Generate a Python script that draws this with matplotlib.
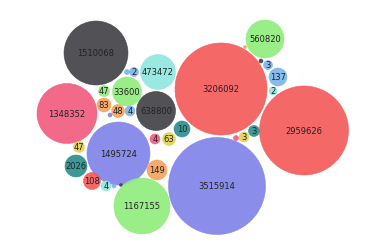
import matplotlib
matplotlib.use('Agg')
import matplotlib.pyplot as plt
from matplotlib.patches import Circle

# bubble values (label text), in drawing order
values = [1510068, 1348352, 473472, 33600, 47, 2, 1, 83, 48, 4, 1,
          638800, 10, 4, 63, 3206092, 2959626, 3515914, 1495724, 47,
          2026, 108, 4, 1, 1, 149, 1167155, 560820, 1, 1, 3, 137, 2,
          3, 3, 1]
# series colour of each bubble
colors = ['#434348', '#f15c80', '#91e8e1', '#90ed7d', '#90ed7d', '#7cb5ec', '#7cb5ec',
          '#f7a35c', '#f7a35c', '#7cb5ec', '#8085e9',
          '#434348', '#2b908f', '#f15c80', '#e4d354', '#f45b5b', '#f45b5b', '#8085e9',
          '#8085e9', '#e4d354', '#2b908f', '#f45b5b', '#91e8e1', '#7cb5ec', '#434348',
          '#f7a35c', '#90ed7d', '#90ed7d', '#f7a35c', '#434348', '#7cb5ec', '#7cb5ec',
          '#91e8e1', '#2b908f', '#e4d354', '#f15c80']

# packed layout (pixel space, y down) and bubble radii
cx = [96, 67, 158, 127, 104, 134, 127, 104, 118, 130, 110,
      156, 182, 155, 169, 221, 304, 217, 118.5, 79,
      76, 92, 106, 114, 121, 157, 142, 265, 245, 261, 268, 278, 273,
      254, 244, 236]
cy = [54, 114.5, 73, 92.5, 92, 73, 73, 106, 112, 112, 116,
      112, 130, 140, 140, 90, 131.5, 187, 154.5, 148,
      167, 182, 187, 187, 186, 171, 207, 40, 48, 62, 66, 78, 92,
      132, 138, 139]
radii = [32, 30, 17.5, 14.5, 5.5, 4.5, 2.5, 7, 6.5, 5, 2,
         19.5, 8, 5, 6.5, 46, 44.5, 48.5, 31.5, 5.5,
         11, 8.5, 5, 2, 1.5, 10, 28, 19, 1.5, 2, 4.5, 9, 4,
         5.5, 5, 2.5]

fig = plt.figure(figsize=(3.67, 2.51), dpi=100)
ax = fig.add_axes([0, 0, 1, 1])
ax.set_xlim(0, 367)
ax.set_ylim(251, 0)
ax.set_aspect('equal')
ax.axis('off')

for v, c, x, y, r in zip(values, colors, cx, cy, radii):
    ax.add_patch(Circle((x, y), r, facecolor=c, edgecolor=c, linewidth=0.4, alpha=0.92))
    if r >= 3.5:
        ax.text(x, y, str(v), ha='center', va='center', fontsize=6,
                color='#222222', family='DejaVu Sans')

fig.savefig('out.png', dpi=100)
